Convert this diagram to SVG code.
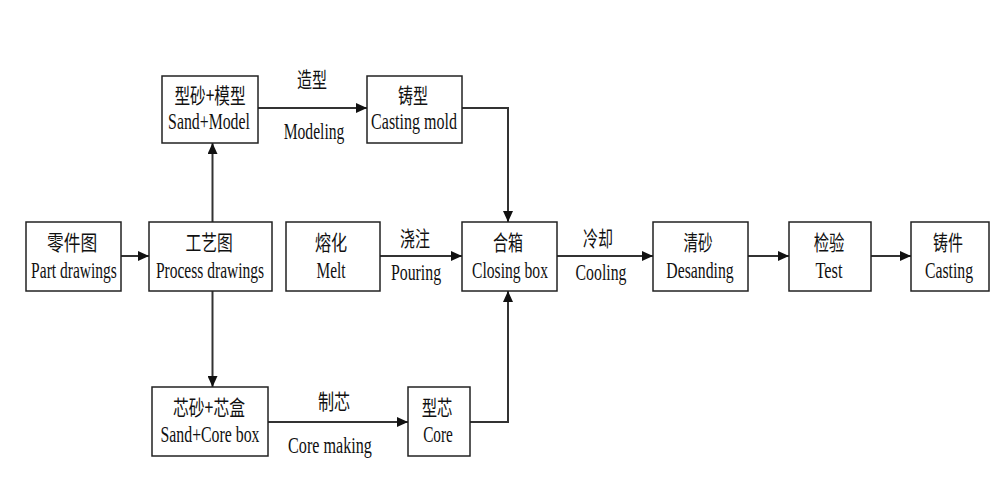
<svg xmlns="http://www.w3.org/2000/svg" width="1008" height="499" viewBox="0 0 1008 499">
<style>
.box{fill:#fff;stroke:#222;stroke-width:1.5}
.zh{font-family:"Noto Sans CJK SC","Noto Sans",sans-serif;font-size:21px;fill:#111;text-anchor:middle}
.en{font-family:"Liberation Serif","DejaVu Serif",serif;font-size:24px;fill:#111;text-anchor:middle}
.ln{fill:none;stroke:#333;stroke-width:2}
</style>
<defs>
<marker id="ah" markerUnits="userSpaceOnUse" markerWidth="12" markerHeight="10" refX="11" refY="5" orient="auto">
<path d="M0,0 L11,5 L0,10 z" fill="#111"/>
</marker>
</defs>
<rect width="1008" height="499" fill="#fff"/>
<g id="connectors">
<line class="ln" x1="121" y1="256" x2="149" y2="256" marker-end="url(#ah)"/>
<line class="ln" x1="212.5" y1="222" x2="212.5" y2="143" marker-end="url(#ah)"/>
<line class="ln" x1="212.5" y1="291" x2="212.5" y2="387" marker-end="url(#ah)"/>
<line class="ln" x1="258" y1="108" x2="367" y2="108" marker-end="url(#ah)"/>
<polyline class="ln" points="462,108 508,108 508,222" marker-end="url(#ah)"/>
<line class="ln" x1="380" y1="256" x2="462" y2="256" marker-end="url(#ah)"/>
<line class="ln" x1="268" y1="422" x2="408" y2="422" marker-end="url(#ah)"/>
<polyline class="ln" points="470,422 508,422 508,291" marker-end="url(#ah)"/>
<line class="ln" x1="557" y1="256" x2="653" y2="256" marker-end="url(#ah)"/>
<line class="ln" x1="748" y1="256" x2="789" y2="256" marker-end="url(#ah)"/>
<line class="ln" x1="871" y1="256" x2="911" y2="256" marker-end="url(#ah)"/>
<text class="zh" transform="translate(312,87) scale(0.75,1)" textLength="40" lengthAdjust="spacingAndGlyphs">造型</text>
<text class="en" transform="translate(314,139) scale(0.66,1)" textLength="92" lengthAdjust="spacingAndGlyphs">Modeling</text>
<text class="zh" transform="translate(415,246) scale(0.75,1)" textLength="40" lengthAdjust="spacingAndGlyphs">浇注</text>
<text class="en" transform="translate(416,280) scale(0.66,1)" textLength="76" lengthAdjust="spacingAndGlyphs">Pouring</text>
<text class="zh" transform="translate(598,246) scale(0.75,1)" textLength="40" lengthAdjust="spacingAndGlyphs">冷却</text>
<text class="en" transform="translate(601,280) scale(0.66,1)" textLength="77" lengthAdjust="spacingAndGlyphs">Cooling</text>
<text class="zh" transform="translate(334,409) scale(0.75,1)" textLength="43" lengthAdjust="spacingAndGlyphs">制芯</text>
<text class="en" transform="translate(330,453) scale(0.66,1)" textLength="127" lengthAdjust="spacingAndGlyphs">Core making</text>
</g>
<g id="part">
<rect class="box" x="26" y="222" width="95" height="69"/>
<text class="zh" transform="translate(72,250) scale(0.75,1)" textLength="67" lengthAdjust="spacingAndGlyphs">零件图</text>
<text class="en" transform="translate(74,278) scale(0.66,1)" textLength="130" lengthAdjust="spacingAndGlyphs">Part drawings</text>
</g>
<g id="process">
<rect class="box" x="149" y="222" width="123" height="69"/>
<text class="zh" transform="translate(209,250) scale(0.75,1)" textLength="63" lengthAdjust="spacingAndGlyphs">工艺图</text>
<text class="en" transform="translate(210,278) scale(0.66,1)" textLength="164" lengthAdjust="spacingAndGlyphs">Process drawings</text>
</g>
<g id="sandmodel">
<rect class="box" x="162" y="76" width="96" height="67"/>
<text class="zh" transform="translate(210,103) scale(0.75,1)" textLength="95" lengthAdjust="spacingAndGlyphs">型砂+模型</text>
<text class="en" transform="translate(209,129) scale(0.66,1)" textLength="124" lengthAdjust="spacingAndGlyphs">Sand+Model</text>
</g>
<g id="castingmold">
<rect class="box" x="367" y="76" width="95" height="67"/>
<text class="zh" transform="translate(413,103) scale(0.75,1)" textLength="40" lengthAdjust="spacingAndGlyphs">铸型</text>
<text class="en" transform="translate(414,129) scale(0.66,1)" textLength="130" lengthAdjust="spacingAndGlyphs">Casting mold</text>
</g>
<g id="melt">
<rect class="box" x="286" y="222" width="94" height="69"/>
<text class="zh" transform="translate(331,250) scale(0.75,1)" textLength="43" lengthAdjust="spacingAndGlyphs">熔化</text>
<text class="en" transform="translate(331,278) scale(0.66,1)" textLength="44" lengthAdjust="spacingAndGlyphs">Melt</text>
</g>
<g id="closing">
<rect class="box" x="462" y="222" width="95" height="69"/>
<text class="zh" transform="translate(508,250) scale(0.75,1)" textLength="40" lengthAdjust="spacingAndGlyphs">合箱</text>
<text class="en" transform="translate(510,278) scale(0.66,1)" textLength="115" lengthAdjust="spacingAndGlyphs">Closing box</text>
</g>
<g id="desanding">
<rect class="box" x="653" y="222" width="95" height="69"/>
<text class="zh" transform="translate(698,250) scale(0.75,1)" textLength="39" lengthAdjust="spacingAndGlyphs">清砂</text>
<text class="en" transform="translate(700,278) scale(0.66,1)" textLength="102" lengthAdjust="spacingAndGlyphs">Desanding</text>
</g>
<g id="test">
<rect class="box" x="789" y="222" width="82" height="69"/>
<text class="zh" transform="translate(829,250) scale(0.75,1)" textLength="41" lengthAdjust="spacingAndGlyphs">检验</text>
<text class="en" transform="translate(829,278) scale(0.66,1)" textLength="41" lengthAdjust="spacingAndGlyphs">Test</text>
</g>
<g id="casting">
<rect class="box" x="911" y="222" width="78" height="69"/>
<text class="zh" transform="translate(948,250) scale(0.75,1)" textLength="40" lengthAdjust="spacingAndGlyphs">铸件</text>
<text class="en" transform="translate(949,278) scale(0.66,1)" textLength="73" lengthAdjust="spacingAndGlyphs">Casting</text>
</g>
<g id="sandcore">
<rect class="box" x="152" y="387" width="116" height="69"/>
<text class="zh" transform="translate(209,415) scale(0.75,1)" textLength="96" lengthAdjust="spacingAndGlyphs">芯砂+芯盒</text>
<text class="en" transform="translate(210,442) scale(0.66,1)" textLength="150" lengthAdjust="spacingAndGlyphs">Sand+Core box</text>
</g>
<g id="core">
<rect class="box" x="408" y="387" width="62" height="69"/>
<text class="zh" transform="translate(437,415) scale(0.75,1)" textLength="41" lengthAdjust="spacingAndGlyphs">型芯</text>
<text class="en" transform="translate(438,442) scale(0.66,1)" textLength="45" lengthAdjust="spacingAndGlyphs">Core</text>
</g>
</svg>
